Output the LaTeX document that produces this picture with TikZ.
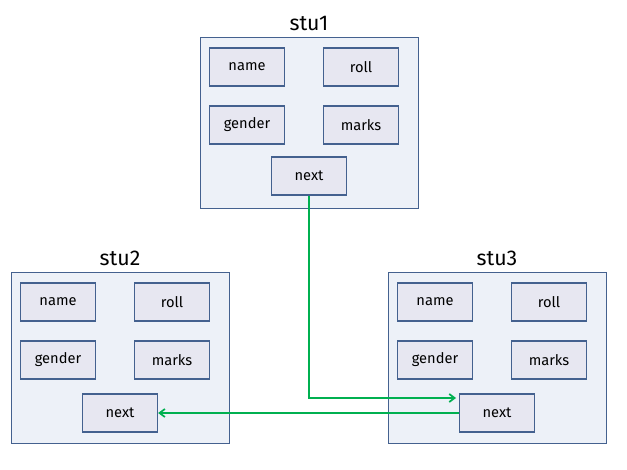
\documentclass[tikz,border=0pt]{standalone}
\usepackage{fontspec}
\setmainfont{Fira Sans}
\usetikzlibrary{arrows.meta}
\definecolor{bord}{HTML}{44618F}
\definecolor{outf}{HTML}{EDF1F8}
\definecolor{inf}{HTML}{E7E7F1}
\definecolor{grn}{HTML}{00B050}
\begin{document}
\begin{tikzpicture}[x=0.75pt,y=-0.75pt,
  outer/.style={draw=bord,fill=outf,line width=0.9pt,minimum width=218*0.75pt,minimum height=171*0.75pt,inner sep=0pt},
  field/.style={draw=bord,fill=inf,line width=0.9pt,minimum width=75*0.75pt,minimum height=38*0.75pt,inner sep=0pt,font=\fontsize{11}{13}\selectfont},
  title/.style={font=\fontsize{16}{18}\selectfont},
  link/.style={draw=grn,line width=1.3pt,-{Straight Barb[length=4pt,width=6pt]}}]
\useasboundingbox (0,0) rectangle (627,470);
\fill[white] (0,0) rectangle (627,470);
\foreach \n/\x/\y in {1/200/37,2/11/272,3/388/272}{
  \node[outer,anchor=north west] (b\n) at (\x,\y) {};
  \node[title,anchor=south] (t\n) at (\x+109,\y-2) {stu\n};
  \node[field] (name\n) at (\x+47,\y+30) {name};
  \node[field] (roll\n) at (\x+161,\y+30) {roll};
  \node[field] (gender\n) at (\x+47,\y+88) {gender};
  \node[field] (marks\n) at (\x+161,\y+88) {marks};
}
\node[field] (next1) at (309,176) {next};
\node[field] (next2) at (120,413) {next};
\node[field] (next3) at (497,413) {next};
\coordinate (c1) at (309,398);
\coordinate (c2) at (456,398);
\draw[link] (next1.south) -- (c1) -- (c2);
\draw[link] (next3.west) -- (next2.east);
\end{tikzpicture}
\end{document}
